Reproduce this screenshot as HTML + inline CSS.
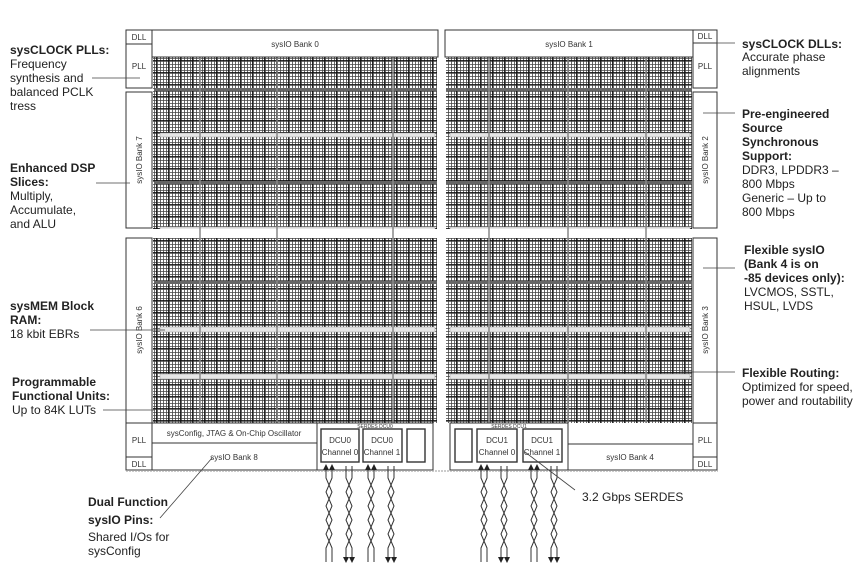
<!DOCTYPE html>
<html><head><meta charset="utf-8"><style>
body{margin:0;background:#fff;}
svg{display:block;font-family:"Liberation Sans",sans-serif;}
.b{font-weight:bold;fill:#222;font-size:12px}
.n{fill:#222;font-size:12px}
</style></head><body>
<svg width="864" height="570" viewBox="0 0 864 570" xmlns="http://www.w3.org/2000/svg">
<defs>
<pattern id="g" width="12" height="12" patternUnits="userSpaceOnUse">
<rect width="12" height="12" fill="#fff"/>
<path d="M1.5 0V12M4.5 0V12M7.5 0V12M10.5 0V12M0 1.5H12M0 4.5H12M0 7.5H12M0 10.5H12" stroke="#444" stroke-width="0.8"/>
<path d="M0 0V12M0 0H12" stroke="#111" stroke-width="1.8"/>
</pattern>
</defs>
<rect x="153" y="57" width="284" height="172" fill="url(#g)"/>
<rect x="446" y="57" width="246" height="172" fill="url(#g)"/>
<rect x="153" y="238" width="284" height="185" fill="url(#g)"/>
<rect x="446" y="238" width="246" height="185" fill="url(#g)"/>
<g fill="#666">
<rect x="155" y="88" width="282" height="3"/><rect x="446" y="88" width="246" height="3"/>
<rect x="155" y="181" width="282" height="3"/><rect x="446" y="181" width="246" height="3"/>
<rect x="155" y="281" width="282" height="3"/><rect x="446" y="281" width="246" height="3"/>
</g>
<g fill="#e6e6e6" stroke="#999" stroke-width="0.5">
<rect x="160" y="133" width="275" height="4"/><rect x="450" y="133" width="240" height="4"/>
<rect x="160" y="227" width="275" height="5"/><rect x="450" y="227" width="240" height="5"/>
<rect x="160" y="327" width="275" height="5"/><rect x="450" y="327" width="240" height="5"/>
<rect x="160" y="374" width="275" height="5"/><rect x="450" y="374" width="240" height="5"/>
</g>
<rect x="152" y="229" width="286" height="9" fill="#fff"/><rect x="446" y="229" width="247" height="9" fill="#fff"/>
<g stroke="#888" stroke-width="1.5">
<path d="M200 57V423M277 57V423M393 57V423M489 57V423M568 57V423M646 57V423"/>
</g>
<g fill="#fff" stroke="#333" stroke-width="1">
<rect x="152" y="30" width="286" height="27"/>
<rect x="445" y="30" width="248" height="27"/>
<rect x="126" y="30" width="26" height="14"/><rect x="126" y="44" width="26" height="44"/>
<rect x="693" y="30" width="24" height="13"/><rect x="693" y="43" width="24" height="45"/>
<rect x="126" y="92" width="26" height="136"/><rect x="693" y="92" width="24" height="136"/>
<rect x="126" y="238" width="26" height="185"/><rect x="693" y="238" width="24" height="185"/>
<rect x="126" y="423" width="26" height="34"/><rect x="126" y="457" width="26" height="13"/>
<rect x="693" y="423" width="24" height="34"/><rect x="693" y="457" width="24" height="13"/>
<rect x="152" y="423" width="165" height="20"/><rect x="152" y="443" width="165" height="27"/>
<rect x="317" y="423" width="116" height="47"/><rect x="450" y="423" width="118" height="47"/>
<rect x="568" y="444" width="125" height="26"/>
<rect x="321" y="429" width="38" height="33" stroke-width="1.4"/>
<rect x="363" y="429" width="39" height="33" stroke-width="1.4"/>
<rect x="407" y="429" width="18" height="33" stroke-width="1.4"/>
<rect x="455" y="429" width="17" height="33" stroke-width="1.4"/>
<rect x="477" y="429" width="40" height="33" stroke-width="1.4"/>
<rect x="523" y="429" width="39" height="33" stroke-width="1.4"/>
</g>
<path d="M126 471H718" stroke="#bbb" stroke-width="1.5" stroke-dasharray="2 1"/>
<g font-size="8" fill="#333" text-anchor="middle">
<text x="295" y="47">sysIO Bank 0</text><text x="569" y="47">sysIO Bank 1</text>
<text x="139" y="40">DLL</text><text x="139" y="69">PLL</text>
<text x="705" y="39">DLL</text><text x="705" y="69">PLL</text>
<text x="139" y="443">PLL</text><text x="139" y="467">DLL</text>
<text x="705" y="443">PLL</text><text x="705" y="467">DLL</text>
<text x="234" y="436">sysConfig, JTAG &amp; On-Chip Oscillator</text>
<text x="234" y="460">sysIO Bank 8</text><text x="630" y="460">sysIO Bank 4</text>
<text x="340" y="443">DCU0</text><text x="340" y="455">Channel 0</text>
<text x="382" y="443">DCU0</text><text x="382" y="455">Channel 1</text>
<text x="497" y="443">DCU1</text><text x="497" y="455">Channel 0</text>
<text x="542" y="443">DCU1</text><text x="542" y="455">Channel 1</text>
<text x="375" y="428" font-size="5">SERDES DCU0</text><text x="509" y="428" font-size="5">SERDES DCU1</text>
<text transform="translate(142,160) rotate(-90)">sysIO Bank 7</text>
<text transform="translate(142,330) rotate(-90)">sysIO Bank 6</text>
<text transform="translate(708,160) rotate(-90)">sysIO Bank 2</text>
<text transform="translate(708,330) rotate(-90)">sysIO Bank 3</text>
</g>
<g stroke="#333" stroke-width="1" fill="none">
<path transform="translate(326,466)" d="M0 0V12L6 26L0 40L6 54L0 68L6 82V96M6 0V12L0 26L6 40L0 54L6 68L0 82V96"/>
<path transform="translate(346,466)" d="M0 0V12L6 26L0 40L6 54L0 68L6 82V96M6 0V12L0 26L6 40L0 54L6 68L0 82V96"/>
<path transform="translate(368,466)" d="M0 0V12L6 26L0 40L6 54L0 68L6 82V96M6 0V12L0 26L6 40L0 54L6 68L0 82V96"/>
<path transform="translate(388,466)" d="M0 0V12L6 26L0 40L6 54L0 68L6 82V96M6 0V12L0 26L6 40L0 54L6 68L0 82V96"/>
<path transform="translate(481,466)" d="M0 0V12L6 26L0 40L6 54L0 68L6 82V96M6 0V12L0 26L6 40L0 54L6 68L0 82V96"/>
<path transform="translate(501,466)" d="M0 0V12L6 26L0 40L6 54L0 68L6 82V96M6 0V12L0 26L6 40L0 54L6 68L0 82V96"/>
<path transform="translate(531,466)" d="M0 0V12L6 26L0 40L6 54L0 68L6 82V96M6 0V12L0 26L6 40L0 54L6 68L0 82V96"/>
<path transform="translate(551,466)" d="M0 0V12L6 26L0 40L6 54L0 68L6 82V96M6 0V12L0 26L6 40L0 54L6 68L0 82V96"/>
</g>
<g fill="#222">
<path d="M323 470h6l-3-6zM329 470h6l-3-6zM365 470h6l-3-6zM371 470h6l-3-6zM478 470h6l-3-6zM484 470h6l-3-6zM528 470h6l-3-6zM534 470h6l-3-6z"/>
<path d="M343 557h6l-3 6zM349 557h6l-3 6zM385 557h6l-3 6zM391 557h6l-3 6zM498 557h6l-3 6zM504 557h6l-3 6zM548 557h6l-3 6zM554 557h6l-3 6z"/>
</g>
<g stroke="#444" stroke-width="0.8">
<path d="M92 78H140M96 183H130M90 330H165M103 410H155M160 518L212 458M575 490L525 452M700 43H735M703 113H735M703 268H735M680 372H735"/>
</g>
<text class="b" x="10" y="54">sysCLOCK PLLs:</text>
<text class="n" x="10" y="68">Frequency</text><text class="n" x="10" y="82">synthesis and</text>
<text class="n" x="10" y="96">balanced PCLK</text><text class="n" x="10" y="110">tress</text>
<text class="b" x="10" y="172">Enhanced DSP</text><text class="b" x="10" y="186">Slices:</text>
<text class="n" x="10" y="200">Multiply,</text><text class="n" x="10" y="214">Accumulate,</text><text class="n" x="10" y="228">and ALU</text>
<text class="b" x="10" y="310">sysMEM Block</text><text class="b" x="10" y="324">RAM:</text>
<text class="n" x="10" y="338">18 kbit EBRs</text>
<text class="b" x="12" y="386">Programmable</text><text class="b" x="12" y="400">Functional Units:</text>
<text class="n" x="12" y="414">Up to 84K LUTs</text>
<text class="b" x="88" y="506">Dual Function</text><text class="b" x="88" y="524">sysIO Pins:</text>
<text class="n" x="88" y="541">Shared I/Os for</text><text class="n" x="88" y="555">sysConfig</text>
<text class="n" x="582" y="501">3.2 Gbps SERDES</text>
<text class="b" x="742" y="48">sysCLOCK DLLs:</text>
<text class="n" x="742" y="61">Accurate phase</text><text class="n" x="742" y="75">alignments</text>
<text class="b" x="742" y="118">Pre-engineered</text><text class="b" x="742" y="132">Source</text>
<text class="b" x="742" y="146">Synchronous</text><text class="b" x="742" y="160">Support:</text>
<text class="n" x="742" y="174">DDR3, LPDDR3 –</text><text class="n" x="742" y="188">800 Mbps</text>
<text class="n" x="742" y="202">Generic – Up to</text><text class="n" x="742" y="216">800 Mbps</text>
<text class="b" x="744" y="254">Flexible sysIO</text><text class="b" x="744" y="268">(Bank 4 is on</text>
<text class="b" x="744" y="282">-85 devices only):</text>
<text class="n" x="744" y="296">LVCMOS, SSTL,</text><text class="n" x="744" y="310">HSUL, LVDS</text>
<text class="b" x="742" y="377">Flexible Routing:</text>
<text class="n" x="742" y="391">Optimized for speed,</text><text class="n" x="742" y="405">power and routability</text>
</svg>
</body></html>
